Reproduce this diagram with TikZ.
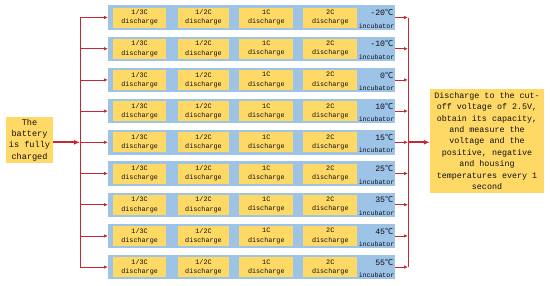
\documentclass[tikz,border=0pt]{standalone}
\usepackage{fontspec}
\setmainfont{Liberation Mono}
\newfontfamily\cjk{Noto Sans CJK SC}
\usetikzlibrary{arrows.meta}
\definecolor{barblue}{RGB}{157,195,230}
\definecolor{boxyellow}{RGB}{255,217,102}
\definecolor{linered}{RGB}{200,40,50}
\definecolor{txt}{RGB}{15,15,25}
\newcommand{\degc}{{\cjk ℃}}
\begin{document}
\begin{tikzpicture}[x=1bp,y=-1bp,
  bar/.style={draw=none,fill=barblue,minimum width=287bp,minimum height=24.4bp,inner sep=0pt,anchor=west},
  ybox/.style={fill=boxyellow,inner sep=0pt,minimum height=20bp,text=txt,align=center,
     font=\fontsize{6.8}{9.2}\selectfont},
  bigbox/.style={fill=boxyellow,inner sep=0pt,text=txt,align=center,font=\fontsize{8.4}{11.5}\selectfont},
  temp/.style={inner sep=0pt,text=txt,anchor=east,font=\fontsize{8.2}{9}\selectfont},
  inc/.style={inner sep=0pt,text=txt,anchor=east,font=\fontsize{6.6}{8}\selectfont},
  thin/.style={draw=linered,line width=0.8bp},
  thinarrow/.style={thin,-{Latex[length=4bp,width=3.5bp]}},
  thickarrow/.style={draw=linered,line width=1.8bp,-{Latex[length=6bp,width=5bp]}}]
\useasboundingbox (0,0) rectangle (550,285);
\foreach \i/\t in {1/-20,2/-10,3/0,4/10,5/15,6/25,7/35,8/45,9/55}{
  \pgfmathsetmacro{\yc}{17.5+31.2*(\i-1)}
  \node[bar] (r\i) at (108,\yc) {};
  \node[ybox,minimum width=52.7bp] (a\i) at (139.6,\yc) {1/3C\\discharge};
  \node[ybox,minimum width=51.6bp] (b\i) at (203.5,\yc) {1/2C\\discharge};
  \node[ybox,minimum width=54bp] (c\i) at (266.3,\yc) {1C\\discharge};
  \node[ybox,minimum width=54bp] (d\i) at (330.3,\yc) {2C\\discharge};
  \node[temp] (t\i) at (393.5,\yc-4.8) {\t\degc};
  \node[inc] (n\i) at (394.5,\yc+8.2) {incubator};
  \coordinate (L\i) at (80,\yc);
  \coordinate (R\i) at (408,\yc);
}
\node[fill=boxyellow,inner sep=0pt,minimum width=47bp,minimum height=46bp,text=txt,align=center,
  font=\fontsize{8.6}{11.5}\selectfont] (start) at (29.5,140) {The\\battery\\is fully\\charged};
\node[bigbox,minimum width=114bp,minimum height=104bp] (end) at (487,141) {Discharge to the cut-\\off voltage of 2.5V,\\obtain its capacity,\\and measure the\\voltage and the\\positive, negative\\and housing\\temperatures every 1\\second};
\draw[thickarrow] (start.east |- L5) -- (L5);
\draw[thin] (L1) -- (L9);
\draw[thin] (R1) -- (R9);
\foreach \i in {1,...,9}{
  \draw[thinarrow] (L\i) -- (r\i.west);
  \draw[thinarrow] (r\i.east) -- (R\i);
}
\draw[thickarrow] (R5) -- (end.west |- R5);
\end{tikzpicture}
\end{document}
